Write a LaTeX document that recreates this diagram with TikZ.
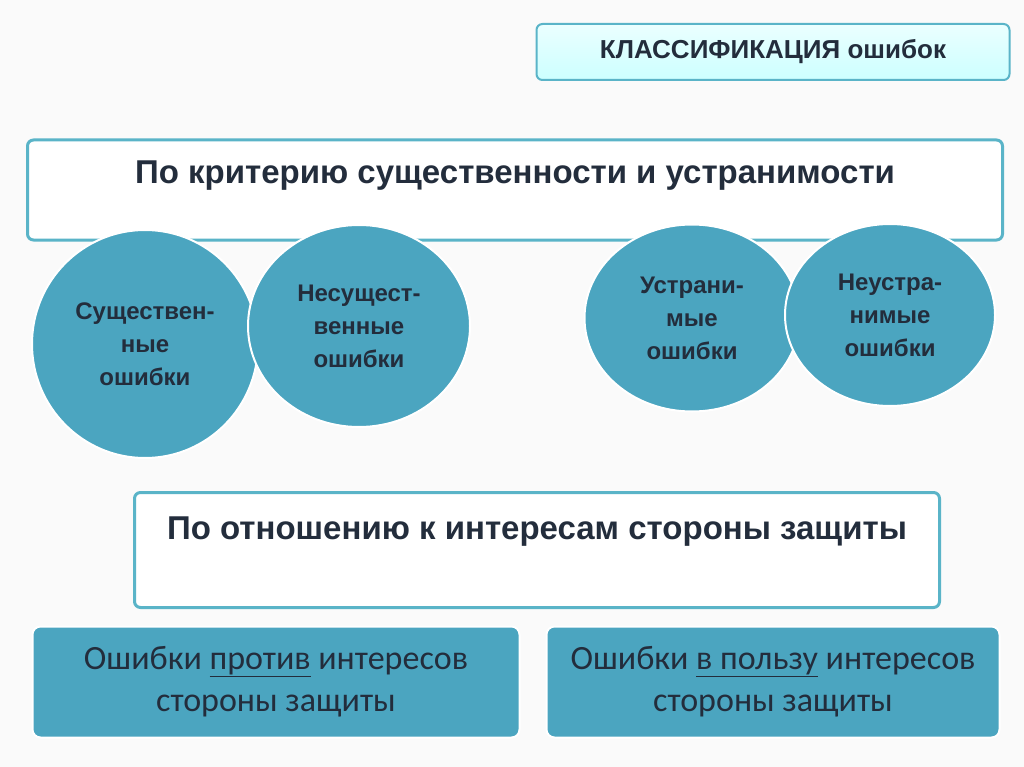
\documentclass[tikz,border=0pt]{standalone}
\usepackage{fontspec}
\setmainfont{Carlito}
\newfontfamily\headfont{Liberation Sans}
\usetikzlibrary{positioning, shapes.geometric}
\definecolor{teal1}{RGB}{75,165,192}
\definecolor{rim}{RGB}{90,180,200}
\definecolor{inkc}{RGB}{35,45,60}
\tikzstyle{header} = [rectangle, rounded corners=6pt, draw=rim, line width=3pt, fill=white, align=center]
\tikzstyle{crit} = [ellipse, draw=white, line width=2pt, fill=teal1, inner sep=0pt, align=center, font=\headfont\fontsize{24}{33}\bfseries, text=inkc]
\tikzstyle{verdict} = [rectangle, rounded corners=8pt, draw=white, line width=2pt, fill=teal1, minimum height=111pt, align=center, font=\fontsize{34}{42}\selectfont, text=inkc]

\begin{document}
\begin{tikzpicture}[x=1pt, y=-1pt]
\useasboundingbox[fill=gray!4] (0,0) rectangle (1024,767);

\node[rectangle, rounded corners=6pt, draw=rim, line width=2pt, top color=cyan!8, bottom color=cyan!20, minimum width=473pt, minimum height=56pt, font=\headfont\fontsize{26}{30}\bfseries, text=inkc] (title) at (773,52) {КЛАССИФИКАЦИЯ ошибок};

\node[header, minimum width=975pt, minimum height=100pt] (crit1) at (515,190) {};
\node[font=\headfont\fontsize{33}{38}\bfseries, text=inkc] (crit1txt) at (515,176) {По критерию существенности и устранимости};

\node[crit, minimum width=226pt, minimum height=228pt] (c1) at (145,344) {Существен-\\ные\\ошибки};
\node[crit, minimum width=222pt, minimum height=202pt] (c2) at (359,326) {Несущест-\\венные\\ошибки};
\node[crit, minimum width=215pt, minimum height=187pt] (c3) at (692,318) {Устрани-\\мые\\ошибки};
\node[crit, minimum width=210pt, minimum height=182pt] (c4) at (890,315) {Неустра-\\нимые\\ошибки};

\node[header, minimum width=805pt, minimum height=115pt] (crit2) at (537,550) {};
\node[font=\headfont\fontsize{33}{38}\bfseries, text=inkc] (crit2txt) at (537,532) {По отношению к интересам стороны защиты};

\node[verdict, minimum width=487pt] (v1) at (276,682) {Ошибки \underline{против} интересов\\стороны защиты};
\node[verdict, minimum width=453pt] (v2) at (773,682) {Ошибки \underline{в пользу} интересов\\стороны защиты};

\end{tikzpicture}
\end{document}
